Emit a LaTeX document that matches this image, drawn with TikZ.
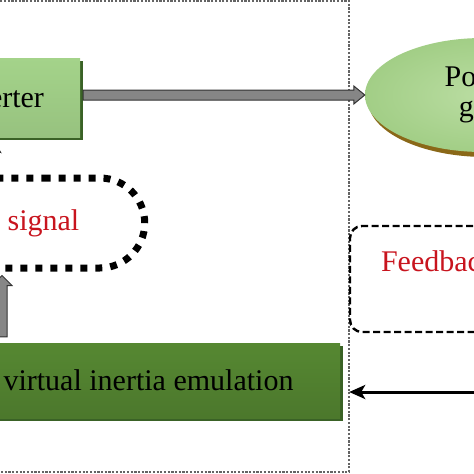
\documentclass[tikz,border=0pt]{standalone}
\usepackage{fontspec}
\setmainfont{Liberation Serif}
\usepackage{tikz}
\usetikzlibrary{shapes.geometric,shapes.misc,shadows,arrows.meta,calc}
\definecolor{convgreen}{RGB}{164,211,138}
\definecolor{convlight}{RGB}{176,218,150}
\definecolor{darkshadow}{RGB}{58,98,38}
\definecolor{gridgreen}{RGB}{162,206,134}
\definecolor{gridlight}{RGB}{186,221,162}
\definecolor{gridshadow}{RGB}{138,104,24}
\definecolor{viegreen}{RGB}{86,136,50}
\definecolor{vielight}{RGB}{106,160,64}
\definecolor{sigred}{RGB}{200,20,30}
\definecolor{framegray}{RGB}{100,100,100}
\tikzset{
    greenbox/.style={rectangle, drop shadow={shadow xshift=3pt, shadow yshift=-3pt, fill=darkshadow, opacity=1}},
    convshade/.style={top color=convgreen, middle color=convlight, bottom color=convgreen!92!black},
    vieshade/.style={top color=viegreen, middle color=vielight, bottom color=viegreen!88!black},
    gridnode/.style={ellipse, inner color=gridlight, outer color=gridgreen, drop shadow={shadow xshift=3pt, shadow yshift=-5pt, fill=gridshadow, opacity=1}},
    sigbox/.style={rounded rectangle, rounded rectangle left arc=none, draw, line width=7pt, dash pattern=on 7pt off 8pt, text=sigred},
    fbbox/.style={rectangle, draw, line width=2.4pt, dash pattern=on 7pt off 3.5pt, rounded corners=12pt, text=sigred},
    fatarrow/.style={draw=black!80, fill=gray!95, line width=1pt, line join=miter},
    frame/.style={draw=framegray, line width=2.2pt, dash pattern=on 2.2pt off 1.5pt}
}

\begin{document}
\begin{tikzpicture}[x=1pt, y=-1pt, every node/.style={font=\fontsize{30}{30}\selectfont}]
                \useasboundingbox (0,0) rectangle (474,474);
                \clip (0,0) rectangle (474,474);
                \draw[frame] (-20,1) rectangle (349,472);
                \node[greenbox, convshade, minimum width=167, minimum height=79] (inv) at (-3.5,97.5) {Inverter};
                \node[gridnode, minimum width=236, minimum height=114, align=center] (grid) at (483,95) {Power\\grid};
                \node[sigbox, minimum width=207, minimum height=90] (sig) at (43.5,223) {signal};
                \node[greenbox, vieshade, minimum width=383, minimum height=75] (virt) at (148.5,380.5) {virtual inertia emulation};
                \node[fbbox, minimum width=177, minimum height=106, text depth=36.5pt] (fb) at (438.5,279) {Feedback};
                \coordinate (gx) at (2,0);
                \coordinate (bx) at (-4,0);
                \coordinate (src) at (490,392);
                \draw[fatarrow] (grid.west) -- ++(-11,-9) -- ++(0,4) -- ($(inv.east |- grid.west)+(3,-5)$) -- ++(0,10) -- ($(grid.west)+(-11,5)$) -- ++(0,4) -- cycle;
                \draw[fatarrow] ($(sig.south -| gx)+(0,4)$) -- ++(10,10) -- ++(-5,0) -- ($(virt.north -| gx)+(5,-6)$) -- ++(-10,0) -- ($(sig.south -| gx)+(-5,14)$) -- ++(-5,0) -- cycle;
                \draw[-{Stealth[length=10pt,width=11pt]}, line width=1.5pt, shorten >=6pt] (sig.north -| bx) -- (inv.south -| bx);
                \draw[-{Stealth[length=16pt,width=14pt,inset=4pt]}, line width=3pt, shorten >=9pt] (src) -- (virt.east |- src);
\end{tikzpicture}
\end{document}
